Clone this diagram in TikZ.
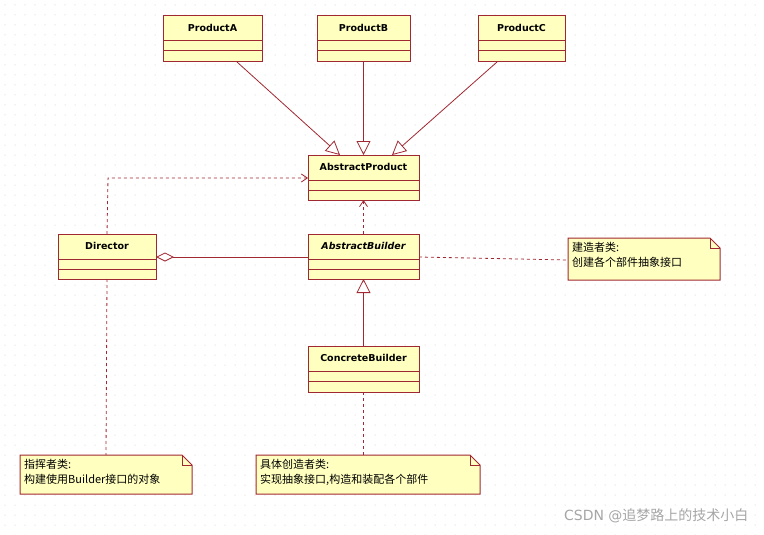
\documentclass[tikz,border=0pt]{standalone}
\usepackage{fontspec}
\setmainfont{DejaVu Sans}
\newfontfamily\cjk{Noto Sans CJK SC}
\usetikzlibrary{arrows.meta}
\definecolor{umlred}{RGB}{160,40,50}
\definecolor{umlfill}{RGB}{255,255,192}
\begin{document}
\begin{tikzpicture}[x=1pt,y=-1pt,
  cls/.style={draw=umlred,fill=umlfill,line width=1pt},
  lbl/.style={font=\fontsize{9.5}{10}\selectfont\bfseries,anchor=center},
  edge/.style={draw=umlred,line width=0.8pt},
  dsh/.style={dash pattern=on 3pt off 3pt},
  inh/.style={edge,-{Triangle[open,length=14pt,width=14pt,fill=white]}},
  dep/.style={edge,dsh,-{Straight Barb[length=6pt,width=8pt]}},
  ntext/.style={font=\cjk\fontsize{11}{15}\selectfont,align=left,anchor=north west,inner sep=0pt}]
\useasboundingbox (0,0) rectangle (764,535);
\fill[white] (0,0) rectangle (764,535);
\foreach \i in {0,...,76}{\foreach \j in {0,...,53}{\fill[gray!45] (\i*10+5,\j*10+5) circle (0.5);}}
\newcommand\umlclass[6]{%
 \draw[cls] (#2,#3) rectangle (#4,#5);
 \draw[umlred,line width=1pt] (#2,#3+25) -- (#4,#3+25) (#2,#3+35) -- (#4,#3+35);
 \node[lbl] (#1) at ({(#2+#4)/2},#3+12) {#6};
 \coordinate (#1T) at ({(#2+#4)/2},#3);
 \coordinate (#1B) at ({(#2+#4)/2},#5);
}
\umlclass{pa}{163}{16}{262}{62}{ProductA}
\umlclass{pb}{317}{16}{410}{62}{ProductB}
\umlclass{pc}{478}{16}{565}{62}{ProductC}
\umlclass{ap}{308}{155}{419}{200}{AbstractProduct}
\umlclass{ab}{308}{234}{419}{279}{\itshape AbstractBuilder}
\umlclass{dir}{58}{234}{156}{279}{Director}
\umlclass{cb}{308}{346}{419}{392}{ConcreteBuilder}
\newcommand\umlnote[6]{%
 \draw[cls] (#2,#3) -- (#4-10,#3) -- (#4,#3+10) -- (#4,#5) -- (#2,#5) -- cycle;
 \draw[umlred,line width=1pt] (#4-10,#3) -- (#4-10,#3+10) -- (#4,#3+10);
 \node[ntext] (#1) at (#2+4,#3+4) {#6};
 \coordinate (#1T) at ({(#2+#4)/2},#3);
}
\umlnote{n1}{568}{238}{720}{280}{建造者类:\\创建各个部件抽象接口}
\umlnote{n2}{20}{455}{192}{494}{指挥者类:\\构建使用Builder接口的对象}
\umlnote{n3}{256}{455}{480}{494}{具体创造者类:\\实现抽象接口,构造和装配各个部件}
\coordinate (apA) at (340,155); \coordinate (apC) at (392,155);
\coordinate (pa1) at (237,62); \coordinate (pc1) at (497,62);
\draw[inh] (pa1) -- (apA);
\draw[inh] (pbB) -- (apT);
\draw[inh] (pc1) -- (apC);
\draw[inh] (cbT) -- (abB);
\draw[dep] (abT) -- (apB);
\coordinate (dirK) at (108,178); \coordinate (apL) at (308,178);
\draw[dep] (dirT) -- (dirK) -- (apL);
\coordinate (dirR) at (156,257); \coordinate (abL) at (308,257);
\draw[edge,{Diamond[open,length=18pt,width=9pt,fill=white]}-] (dirR) -- (abL);
\coordinate (abR) at (419,257); \coordinate (n1L) at (568,260);
\draw[edge,dsh] (abR) -- (n1L);
\draw[edge,dsh] (dirB) -- (n2T);
\draw[edge,dsh] (cbB) -- (cbB |- n3T);
\node[font=\fontsize{14}{16}\selectfont\color{gray!70},anchor=east] (wm) at (752,516) {CSDN @{\cjk 追梦路上的技术小白}};
\end{tikzpicture}
\end{document}
